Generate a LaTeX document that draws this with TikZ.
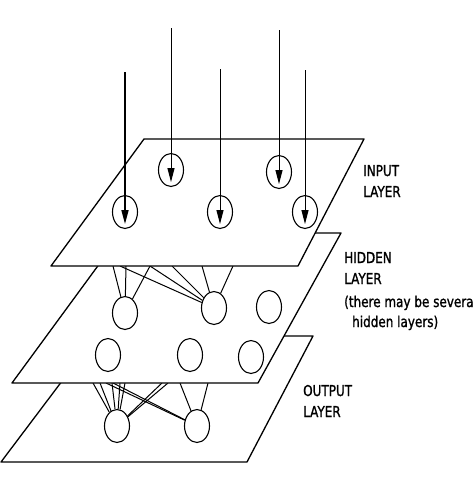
\documentclass[tikz,border=0pt]{standalone}
\usepackage{fontspec}
\setmainfont{DejaVu Sans}[FakeStretch=0.8,FakeBold=1.2]
\usetikzlibrary{shapes.geometric,arrows.meta}

\begin{document}
\begin{tikzpicture}[x=1pt,y=-1pt]
	\tikzstyle{every node}=[font=\fontsize{15}{18}\selectfont]
	\tikzstyle{plane}=[draw,line width=1.3pt,fill=white,line join=round]
	\tikzstyle{unit}=[draw,ellipse,line width=1.1pt,fill=white,minimum width=25pt,minimum height=33pt,inner sep=0pt]
	\tikzstyle{link}=[line width=1pt]
	\tikzstyle{feed}=[line width=1pt,-{Triangle[length=14pt,width=7pt]},shorten >=5pt]
	\tikzstyle{laytext}=[anchor=base west,inner sep=0pt]
	
	\useasboundingbox (0,0) rectangle (474,493);
	
	%%Output layer
	\draw [plane] (96,336) -- (313,336) -- (247,462) -- (1,462) -- cycle;
	\node [unit] (o1) at (117,426) {};
	\node [unit] (o2) at (197,426) {};
	\coordinate (b1) at (93,383);
	\coordinate (b2) at (100,383);
	\coordinate (b3) at (112,383);
	\coordinate (b4) at (120,383);
	\coordinate (b5) at (125,383);
	\coordinate (b6) at (106,383);
	\coordinate (b7) at (113,383);
	\coordinate (b8) at (168,383);
	\coordinate (b9) at (162,383);
	\coordinate (b10) at (180,383);
	\coordinate (b11) at (208,383);
	\draw [link] (b1) -- (o1);
	\draw [link] (b2) -- (o1);
	\draw [link] (b3) -- (o1);
	\draw [link] (b4) -- (o1);
	\draw [link] (b5) -- (o1);
	\draw [link] (b8) -- (o1);
	\draw [link] (b9) -- (o1);
	\draw [link] (b6) -- (o2);
	\draw [link] (b7) -- (o2);
	\draw [link] (b10) -- (o2);
	\draw [link] (b11) -- (o2);
	
	%%Hidden layer
	\draw [plane] (122,233) -- (341,233) -- (258,383) -- (12,383) -- cycle;
	\node [unit] (h1) at (125,313) {};
	\node [unit] (h2) at (214,308) {};
	\node [unit] (h3) at (269,307) {};
	\node [unit] (h4) at (108,355) {};
	\node [unit] (h5) at (190,355) {};
	\node [unit] (h6) at (251,357) {};
	\coordinate (a1) at (113,266);
	\coordinate (a2) at (126,266);
	\coordinate (a3) at (150,266);
	\coordinate (a4) at (120,266);
	\coordinate (a5) at (172,266);
	\coordinate (a6) at (202,266);
	\coordinate (a7) at (233,266);
	\draw [link] (a1) -- (h1);
	\draw [link] (a2) -- (h1);
	\draw [link] (a3) -- (h1);
	\draw [link] (a4) -- (h2);
	\draw [link] (a3) -- (h2);
	\draw [link] (a5) -- (h2);
	\draw [link] (a6) -- (h2);
	\draw [link] (a7) -- (h2);
	
	%%Input layer
	\draw [plane] (144,139) -- (364,139) -- (298,266) -- (51,266) -- cycle;
	\node [unit] (i1) at (125,212) {};
	\node [unit] (i2) at (171,170) {};
	\node [unit] (i3) at (220,212) {};
	\node [unit] (i4) at (279,172) {};
	\node [unit] (i5) at (305,212) {};
	\coordinate (s1) at (125,72);
	\coordinate (s2) at (171,28);
	\coordinate (s3) at (220,69);
	\coordinate (s4) at (279,30);
	\coordinate (s5) at (305,70);
	\draw [feed,line width=1.6pt] (s1) -- (i1.south);
	\draw [feed] (s2) -- (i2.south);
	\draw [feed] (s3) -- (i3.south);
	\draw [feed] (s4) -- (i4.south);
	\draw [feed] (s5) -- (i5.south);
	
	%%Labels
	\node [laytext] (in1) at (363,176) {INPUT};
	\node [laytext] (in2) at (363,197) {LAYER};
	\node [laytext] (hid1) at (344,263) {HIDDEN};
	\node [laytext] (hid2) at (344,284) {LAYER};
	\node [laytext] (hid3) at (344,307) {(there may be several};
	\node [laytext] (hid4) at (352,327) {hidden layers)};
	\node [laytext] (out1) at (303,396) {OUTPUT};
	\node [laytext] (out2) at (303,417) {LAYER};

\end{tikzpicture}
\end{document}
